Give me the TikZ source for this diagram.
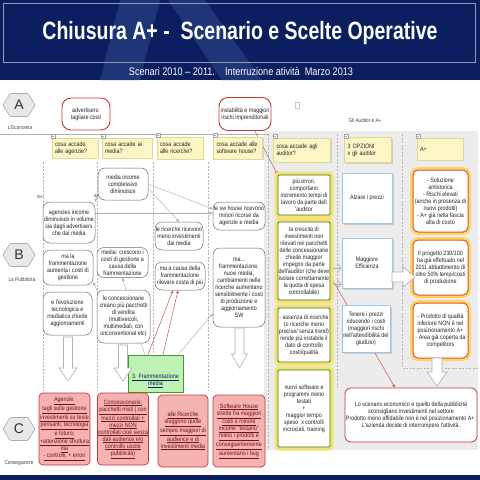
\documentclass[tikz,border=0pt]{standalone}
\usepackage{fontspec}
\setmainfont{Liberation Sans}
\newfontfamily\nar[FakeStretch=0.85]{Liberation Sans}
\usepackage{graphicx}
\usetikzlibrary{shadows,arrows.meta}
\pgfdeclarelayer{back}
\pgfdeclarelayer{mid}
\pgfsetlayers{back,mid,main}
\definecolor{navy}{RGB}{10,30,96}
\definecolor{wmark}{RGB}{30,54,120}
\definecolor{panel}{RGB}{236,236,236}
\definecolor{noteY}{RGB}{252,246,196}
\definecolor{noteB}{RGB}{225,215,150}
\definecolor{nodeB}{RGB}{110,110,110}
\definecolor{redB}{RGB}{200,55,55}
\definecolor{redF}{RGB}{245,178,178}
\definecolor{redT}{RGB}{115,20,20}
\definecolor{greenB}{RGB}{70,150,40}
\definecolor{greenF}{RGB}{190,242,180}
\definecolor{audB}{RGB}{60,120,30}
\definecolor{halo}{RGB}{245,226,112}
\definecolor{optB}{RGB}{160,200,228}
\definecolor{orB}{RGB}{225,85,30}
\definecolor{orH}{RGB}{252,212,110}
\definecolor{lane}{RGB}{180,180,180}
\definecolor{hexF}{RGB}{232,232,232}
\newcommand\nt{\nar\fontsize{6.3}{7}\selectfont}
\newcommand\myul[1]{\underline{#1}}
\begin{document}
\begin{tikzpicture}[x=1pt,y=-1pt,
 every node/.style={font=\nt, inner sep=0.5pt, text=black!85},
 sz/.style 2 args={minimum width=#1pt, minimum height=#2pt},
 rn/.style={draw=nodeB, fill=white, rounded corners=7pt, line width=0.5pt, align=center},
 rr/.style={rn, draw=redB, line width=0.9pt, rounded corners=9pt},
 note/.style={fill=noteY, draw=noteB, line width=0.3pt, align=left, inner xsep=3pt, drop shadow={shadow xshift=1.2pt, shadow yshift=-1.2pt, opacity=0.3}},
 cbox/.style={fill=redF, draw=redB, line width=0.7pt, rounded corners=4pt, align=center, text=redT},
 gbox/.style={fill=greenF, draw=greenB, line width=0.8pt},
 aud/.style={fill=white, draw=audB, line width=0.9pt, align=center, rounded corners=1pt, preaction={draw=halo, line width=7pt}},
 opt/.style={fill=white, draw=optB, line width=1pt, align=center, drop shadow={shadow xshift=1.5pt, shadow yshift=-1.5pt, opacity=0.3}},
 apl/.style={fill=white, draw=orB, line width=1pt, align=center, rounded corners=5pt, preaction={draw=orH, line width=6pt}},
 blk/.style={draw=gray!60, fill=white, line width=0.6pt},
 lanes/.style={draw=lane, dash pattern=on 2pt off 1.5pt, line width=0.4pt},
 conn/.style={draw=gray!65, line width=0.4pt, -{Stealth[length=3.5pt,width=3pt]}},
 rconn/.style={draw=redB!85, line width=0.5pt, -{Stealth[length=3.5pt,width=3pt]}},
 oconn/.style={draw=gray!65, line width=0.5pt, -{Straight Barb[length=4pt,width=9pt]}},
 hex/.style={fill=hexF, draw=gray!65, line width=0.6pt, rounded corners=1pt},
 hexl/.style={font=\fontsize{14}{14}\selectfont, text=black!80},
 side/.style={font=\nar\fontsize{5.5}{6}\selectfont, text=black!75},
 icon/.style={draw=gray!70, fill=white, line width=0.3pt},
]
\useasboundingbox (0,0) rectangle (480,480);
\begin{pgfonlayer}{back}
\fill[white] (0,0) rectangle (480,480);
% title band
\fill[navy] (0,0) rectangle (480,80);
\begin{scope}
\clip (0,0) rectangle (480,80);
\fill[wmark] (100,80) -- (140,80) -- (160,0) -- (120,0) -- cycle;
\fill[wmark] (168,0) -- (205,0) -- (262,80) -- (222,80) -- cycle;
\end{scope}
\draw[white!55!navy, line width=0.5pt] (3,3) rectangle (475,62);
\fill[navy] (0,475) rectangle (480,480);
% right panel
\fill[panel] (264,131) rectangle (478,450);
\draw[gray!60, line width=0.5pt] (0,134) -- (268,134);
\foreach \x in {43,97,153,208} \draw[lanes] (\x,162) -- (\x,390);
\draw[lanes] (268,134) -- (268,450);
\draw[lanes] (337,134) -- (337,388);
\draw[lanes] (402,134) -- (402,368) -- (478,368);
% hexagons
\draw[hex] (3,105) -- (10,93.5) -- (28,93.5) -- (35,105) -- (28,116.5) -- (10,116.5) -- cycle;
\draw[hex] (3,255) -- (10,243.5) -- (28,243.5) -- (35,255) -- (28,266.5) -- (10,266.5) -- cycle;
\draw[hex] (3,429) -- (10,417.5) -- (28,417.5) -- (35,429) -- (28,440.5) -- (10,440.5) -- cycle;
\draw[icon, draw=gray!45] (295,102) rectangle (299,108);
\end{pgfonlayer}

% titles
\node[text=white, font=\fontsize{25}{25}\selectfont\bfseries] (title) at (240,33) {\scalebox{0.78}[1]{Chiusura A+ -\ \ Scenario e Scelte Operative}};
\node[text=white, font=\fontsize{11}{11}\selectfont] (sub) at (241,72) {\scalebox{0.83}[1]{Scenari 2010 -- 2011.\ \ \ \ Interruzione atività\ \ Marzo 2013}};

% hex letters and side labels
\node[hexl] (hA) at (19,105) {A};
\node[hexl] (hB) at (19,255) {B};
\node[hexl] (hC) at (19,429) {C};
\node[side] (lA) at (20,128) {L'Economia};
\node[side] (lB) at (22,279) {La Pubblicità};
\node[side] (lC) at (19,463) {Conseguenze};
\node[side] (lG) at (365,121) {Gli Auditor e A+};
\node[side, font=\nar\fontsize{4.5}{5}\selectfont] (lfee) at (40,197) {fee};
\node[side, font=\nar\fontsize{4.5}{5}\selectfont] (ldis) at (96,195.5) {dis};

% top red nodes
\node[rr, sz={48}{32}] (adv) at (86,114) {advertisers:\\tagliare costi};
\node[rr, sz={52}{33}] (instab) at (245,114) {instabilità e maggiori\\rischi imprenditoriali};

% notes
\node[note, text width=40pt, minimum height=20pt] (n1) at (75,148) {cosa accade\\alle agenzie?};
\node[note, text width=44pt, minimum height=20pt] (n2) at (127,148) {cosa accade ai\\media?};
\node[note, text width=40pt, minimum height=22pt] (n3) at (180,148) {cosa accade\\alle ricerche?};
\node[note, text width=43pt, minimum height=22pt] (n4) at (238,148) {cosa accade alle\\software house?};
\node[note, text width=51pt, minimum height=24pt] (n5) at (302,150) {cosa accade agli\\auditor?};
\node[note, text width=41pt, minimum height=25pt] (n6) at (368,150) {3 OPZIONI\\x gli auditor};
\node[note, text width=40pt, minimum height=22pt] (n7) at (440,149) {A+};
\foreach \n in {n1,n2,n3,n4,n5,n6,n7}{
 \draw[icon] ([shift={(-0.5,-3.5)}]\n.north west) rectangle ++(4,4);
 \draw[gray!70, line width=0.3pt] ([shift={(0.4,-1.5)}]\n.north west) -- ++(2.2,0);
}

% lane nodes
\node[rn, sz={52}{41}] (ag1) at (69,222.5) {agencies income\\diminuisce in volume\\sia dagli advertisers\\che dai media};
\node[rn, sz={50}{35}] (ag2) at (68,267.5) {ma la\\frammentazione\\aumenta i costi di\\gestione};
\node[rn, sz={49}{43}] (ag3) at (67.5,313.5) {e l'evoluzione\\tecnologica e\\mediatica chiede\\aggiornamenti};
\node[rn, sz={50}{32}] (me1) at (123,184) {media income\\complessivo\\diminuisce};
\node[rn, sz={51}{30}] (me2) at (122.5,262.5) {media: crescono i\\costi di gestione a\\causa della\\frammentazione};
\node[rn, sz={53}{53}] (me3) at (123.5,316.5) {le concessionarie\\creano più pacchetti\\di vendita\\(multiveicoli,\\multimediali, con\\unconventional etc)};
\node[rn, sz={48}{28}] (ri1) at (179,236) {le ricerche ricevono\\meno investimenti\\dai media};
\node[rn, sz={50}{28}] (ri2) at (180,276) {ma a causa della\\frammentazione\\rilevare costa di più};
\node[rn, sz={52}{28}] (sw1) at (239,216) {le sw house ricevono\\minori ricorse da\\agenzie e media};
\node[rn, sz={52}{79}] (sw2) at (239,287.5) {ma...\\frammentazione,\\nuovi media,\\cambiamenti nelle\\ricerche aumentano\\sensibilmente i costi\\di produzione e\\aggiornamento\\SW};

% green box
\node[gbox, sz={55}{37}] (fr) at (155.5,373.5) {};
\node[text=navy, align=center] (frt) at (155.5,381) {\myul{3. Frammentazione}\\\myul{media}};

% consequences
\node[cbox, sz={51}{72}] (c1) at (64.5,429) {\myul{Agenzie:}\\\myul{tagli sulle gestione}\\\myul{investimenti su teste}\\\myul{pensanti,\ tecnologia}\\\myul{e futuro;}\\\myul{+attenzione struttura}\\\myul{ma}\\\myul{- controlli, + errori}};
\node[cbox, sz={50}{72}] (c2) at (123,429) {\myul{Concessionarie:}\\\myul{pacchetti misti\ ( con}\\\myul{mezzi controllati +}\\\myul{mezzi NON}\\\myul{controllati cioè senza}\\\myul{dati audience\ e/o}\\\myul{controllo uscite}\\\myul{pubblicità)}};
\node[cbox, sz={50}{72}] (c3) at (183,431) {\myul{alle Ricerche}\\\myul{sfuggono quote}\\\myul{sempre maggiori di}\\\myul{audience e di}\\\myul{investimenti media}};
\node[cbox, sz={52}{72}] (c4) at (239,431) {\myul{Software House}\\\myul{strette fra maggiori}\\\myul{costi e minore}\\\myul{income "testano"}\\\myul{meno i prodotti e}\\\myul{conseguentemente}\\\myul{aumentano i bug}};

% auditor column
\node[aud, sz={52}{40}] (au1) at (304,195) {più errori,\\comportano\\incremento tempi di\\lavoro da parte dell\\'auditor};
\node[aud, sz={52}{78}] (au2) at (304,261) {la crescita di\\investimenti non\\rilevati nei pacchetti\\delle concessionarie\\chiede maggior\\impegno da parte\\dell'auditor (che deve\\isolare correttamente\\la quota di spesa\\controllabile)};
\node[aud, sz={52}{54}] (au3) at (304,335) {- assenza di ricerche\\(o ricerche meno\\precise/ senza trend)\\rende più instabile il\\dato di controllo\\costi/qualità};
\node[aud, sz={52}{77}] (au4) at (304,408.5) {nuovi software e\\programmi meno\\testati\\+\\maggior tempo\\speso\ \ x controlli\\incrociati, training};

% options
\node[opt, sz={50}{50}] (op1) at (367,198) {Alzare i prezzi};
\node[opt, sz={50}{50}] (op2) at (367,263) {Maggiore\\Efficienza};
\node[opt, sz={48}{47}] (op3) at (366,328.5) {Tenere i prezzi\\riducendo i costi\\(maggiori rischi\\nell'attendibilità del\\giudizio)};

% A+
\node[apl, sz={55}{62}] (ap1) at (440.5,201) {- Soluzione\\antistorica\\- Rischi elevati\\(anche in presenza di\\nuovi prodotti)\\- A+ già nella fascia\\alta di costo};
\node[apl, sz={55}{55}] (ap2) at (440.5,267.5) {Il progetto 230/100\\ha già effettuato nel\\2011 abbattimento di\\oltre 50\% tempi/costi\\di produzione};
\node[apl, sz={55}{55}] (ap3) at (440.5,330.5) {- Prodotto di qualità\\inferiore NON è nel\\posizionamento A+\\- Area già coperta da\\competitors};

% final
\node[rn, draw=redB, line width=0.8pt, rounded corners=6pt, sz={132}{54}] (fin) at (411,415) {Lo scenario economico e quello della pubblicità\\sconsigliano investimenti nel settore\\Prodotto meno affidabile non è nel posizionamento A+.\\L'azienda decide di interrompere l'attività.};

% block arrows
\draw[blk] (63.5,337) -- (72.5,337) -- (72.5,368) -- (77,368) -- (68,381) -- (59,368) -- (63.5,368) -- cycle;
\draw[blk] (118.5,345) -- (127.5,345) -- (127.5,368) -- (132,368) -- (123,381) -- (114,368) -- (118.5,368) -- cycle;
\draw[blk] (235,328) -- (244,328) -- (244,354) -- (247.5,354) -- (239.5,368) -- (231.5,354) -- (235,354) -- cycle;
\draw[blk] (432,358) -- (442,358) -- (442,372) -- (447,372) -- (437,386) -- (427,372) -- (432,372) -- cycle;
\draw[blk] (392,272) -- (403,272) -- (403,267) -- (415,277) -- (403,287) -- (403,282) -- (392,282) -- cycle;

% connectors
\begin{pgfonlayer}{mid}
\draw[conn] (me1.200) -- (ag1.north east);
\draw[conn] (me1.-10) -- (ri1.north);
\draw[conn] (me1.east) -- (sw1.165);
\draw[conn] (ag1.east |- 0,213) -- (sw1.west |- 0,213);
\draw[conn] (fr.150) -- (ag2.-30);
\draw[conn] (fr.120) -- (me2.south);
\draw[rconn] (fr.north -| 148,0) -- (ri2.south -| 173,0);
\draw[rconn] (fr.north -| 163,0) -- (ri2.south -| 178,0);
\draw[conn] (fr.40) -- (sw2.225);
\draw[rconn] (instab.-60) -- (au1.north west);
\draw[rconn] (au2.-30) -- (fin.north -| 395,0);
\draw[oconn] (au2.east |- 0,268) -- (op2.west |- 0,268);
\draw[oconn] (au2.east |- 0,284) -- (op2.west |- 0,284);
\end{pgfonlayer}
\end{tikzpicture}
\end{document}
